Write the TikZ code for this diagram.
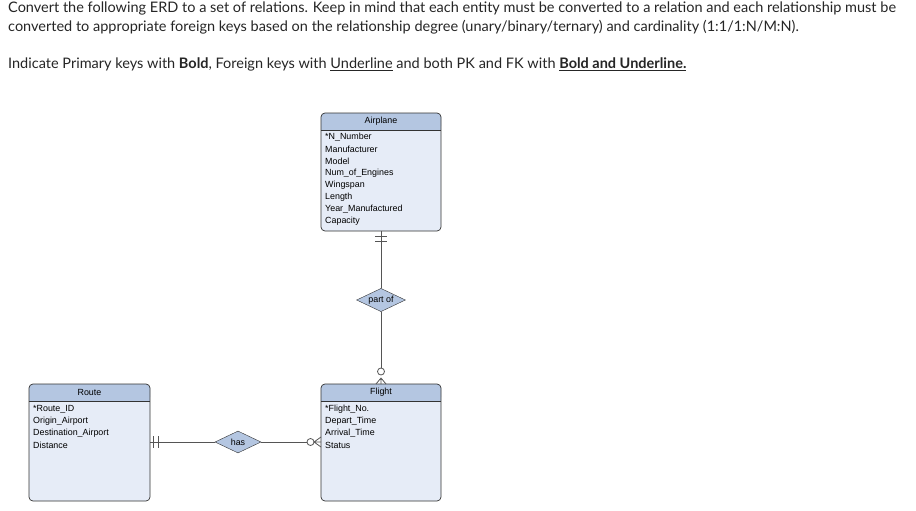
\documentclass[tikz,border=0pt]{standalone}
\usepackage{fontspec}
\setmainfont{Lato}
\newfontfamily\dia{Liberation Sans}
\usetikzlibrary{shapes.geometric}
\definecolor{hdr}{HTML}{B4C6E1}
\definecolor{bodyc}{HTML}{E6ECF7}
\definecolor{ln}{HTML}{555555}
\begin{document}
\begin{tikzpicture}[x=1pt,y=-1pt,
  txt/.style={anchor=base west,font=\fontsize{14.5}{16}\selectfont,text=black!85,inner sep=0},
  att/.style={anchor=west,font=\dia\fontsize{8.9}{10}\selectfont,inner sep=0},
  ttl/.style={font=\dia\fontsize{8.9}{10}\selectfont,inner sep=0},
  rel/.style={diamond,draw=black!80,fill=hdr,aspect=2.1,inner sep=1pt,font=\dia\fontsize{8.9}{10}\selectfont,minimum width=46,minimum height=22},
  con/.style={draw=ln,line width=0.8pt}]
\useasboundingbox (0,0) rectangle (916,511);
\fill[white] (0,0) rectangle (916,511);
\node[txt] (t1) at (8,13) {Convert the following ERD to a set of relations. Keep in mind that each entity must be converted to a relation and each relationship must be};
\node[txt] (t2) at (8,32) {converted to appropriate foreign keys based on the relationship degree (unary/binary/ternary) and cardinality (1:1/1:N/M:N).};
\node[txt] (t3) at (8,69) {Indicate Primary keys with \textbf{Bold}, Foreign keys with \underline{Underline} and both PK and FK with \underline{\textbf{Bold and Underline.}}};
\foreach \nm/\xa/\ya/\xb/\yb in {air/321/113/441/231, fl/321/384/441/501, ro/29/384/150/501}{
  \fill[bodyc,rounded corners=4pt] (\xa,\ya) rectangle (\xb,\yb);
  \fill[hdr,rounded corners=4pt] (\xa,\ya) rectangle (\xb,{\ya+17});
  \fill[hdr] (\xa,{\ya+8}) rectangle (\xb,{\ya+17});
  \draw[black!80] (\xa,{\ya+17}) -- (\xb,{\ya+17});
  \draw[black!80,rounded corners=4pt,line width=0.7pt] (\xa,\ya) rectangle (\xb,\yb);
  \coordinate (\nm-tl) at (\xa,\ya);
}
\node[ttl] (airT) at (381,121.5) {Airplane};
\node[ttl] (flT) at (381,392.5) {Flight};
\node[ttl] (roT) at (89.5,392.5) {Route};
\foreach \i/\t in {0/*N\_Number,1/Manufacturer,2/Model,3/Num\_of\_Engines,4/Wingspan,5/Length,6/Year\_Manufactured,7/Capacity}
  \node[att] (a\i) at (325,{137+12*\i}) {\t};
\foreach \i/\t in {0/*Flight\_No.,1/Depart\_Time,2/Arrival\_Time,3/Status}
  \node[att] (f\i) at (325,{409+12*\i}) {\t};
\foreach \i/\t in {0/*Route\_ID,1/Origin\_Airport,2/Destination\_Airport,3/Distance}
  \node[att] (r\i) at (33,{409+12*\i}) {\t};
\coordinate (airB) at (381,231);
\coordinate (roR) at (150,442);
\node[rel] (po) at (381,300) {part of};
\node[rel] (has) at (238,442) {has};
\draw[con] (airB) -- (po.north);
\draw[con] (po.south) -- (381,375);
\draw[con] (roR) -- (has.west);
\draw[con] (has.east) -- (314,442);
\draw[con] (375,236) -- (387,236) (375,241) -- (387,241);
\draw[con] (153,436) -- (153,448) (158,436) -- (158,448);
\draw[con,fill=white] (381,371.5) circle (3.5);
\draw[con] (381,378) -- (381,384) (381,378) -- (376,384) (381,378) -- (386,384);
\draw[con,fill=white] (310.5,442) circle (3.5);
\draw[con] (314,442) -- (321,442) (314,442) -- (321,437) (314,442) -- (321,447);
\end{tikzpicture}
\end{document}
